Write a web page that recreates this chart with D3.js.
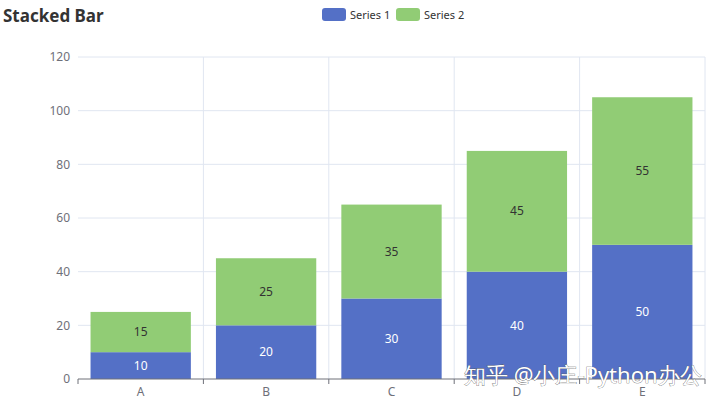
<!DOCTYPE html>
<html>
<head>
<meta charset="utf-8">
<script src="https://cdn.jsdelivr.net/npm/d3@7"></script>
<style>
  body { margin: 0; background: #fff; }
  text { font-family: "Microsoft YaHei", "Noto Sans", sans-serif; }
</style>
</head>
<body>
<div id="plot"></div>
<script>
const categories = ["A", "B", "C", "D", "E"];
const series1 = [10, 20, 30, 40, 50];
const series2 = [15, 25, 35, 45, 55];
const seriesNames = ["Series 1", "Series 2"];
const colors = ["#5470c6", "#91cc75"];
const yTicks = [0, 20, 40, 60, 80, 100, 120];

const width = 720, height = 406;
const margin = { top: 57, right: 15, bottom: 27, left: 78 };

const svg = d3.select("#plot").append("svg")
  .attr("width", width).attr("height", height);

const x = d3.scaleBand().domain(categories)
  .range([margin.left, width - margin.right]).paddingInner(0.2).paddingOuter(0.1);
const xOuter = d3.scaleBand().domain(categories)
  .range([margin.left, width - margin.right]);
const y = d3.scaleLinear().domain([0, 120]).range([height - margin.bottom, margin.top]);

// grid
svg.append("g").selectAll("line").data(yTicks.slice(1)).enter().append("line")
  .attr("x1", margin.left).attr("x2", width - margin.right)
  .attr("y1", d => y(d)).attr("y2", d => y(d))
  .attr("stroke", "#e0e6f1");
svg.append("g").selectAll("line").data(categories.slice(1).concat(["end"])).enter().append("line")
  .attr("x1", d => d === "end" ? width - margin.right : xOuter(d))
  .attr("x2", d => d === "end" ? width - margin.right : xOuter(d))
  .attr("y1", margin.top).attr("y2", height - margin.bottom)
  .attr("stroke", "#e0e6f1");

// y labels
svg.append("g").selectAll("text").data(yTicks).enter().append("text")
  .attr("x", margin.left - 8).attr("y", d => y(d)).attr("dy", "0.35em")
  .attr("text-anchor", "end").attr("font-size", 12).attr("fill", "#6e7079")
  .text(d => d);

// stacked bars
const rows = categories.map((c, i) => ({ cat: c, s1: series1[i], s2: series2[i] }));
const stacked = d3.stack().keys(["s1", "s2"])(rows);
stacked.forEach((layer, li) => {
  const g = svg.append("g");
  g.selectAll("rect").data(layer).enter().append("rect")
    .attr("x", d => x(d.data.cat)).attr("width", x.bandwidth())
    .attr("y", d => y(d[1])).attr("height", d => y(d[0]) - y(d[1]))
    .attr("fill", colors[li]);
  g.selectAll("text").data(layer).enter().append("text")
    .attr("x", d => x(d.data.cat) + x.bandwidth() / 2)
    .attr("y", d => (y(d[0]) + y(d[1])) / 2).attr("dy", "0.35em")
    .attr("text-anchor", "middle").attr("font-size", 12)
    .attr("fill", li === 0 ? "#fff" : "#333")
    .text(d => d[1] - d[0]);
});

// x axis
const xa = svg.append("g").attr("transform", `translate(0,${height - margin.bottom})`);
xa.append("line").attr("x1", margin.left).attr("x2", width - margin.right)
  .attr("stroke", "#6e7079");
xa.selectAll(".tk").data(categories.concat(["end"])).enter().append("line")
  .attr("x1", d => d === "end" ? width - margin.right : xOuter(d))
  .attr("x2", d => d === "end" ? width - margin.right : xOuter(d))
  .attr("y2", 5).attr("stroke", "#6e7079");
xa.selectAll("text").data(categories).enter().append("text")
  .attr("x", d => xOuter(d) + xOuter.bandwidth() / 2).attr("y", 17)
  .attr("text-anchor", "middle").attr("font-size", 12).attr("fill", "#6e7079")
  .text(d => d);

// title
svg.append("text").attr("x", 3).attr("y", 22).attr("font-size", 17)
  .attr("font-weight", "bold").attr("fill", "#333").text("Stacked Bar");

// legend
const lg = svg.append("g");
seriesNames.forEach((n, i) => {
  const lx = 322 + i * 74;
  lg.append("rect").attr("x", lx).attr("y", 8).attr("width", 24).attr("height", 13)
    .attr("rx", 3).attr("fill", colors[i]);
  lg.append("text").attr("x", lx + 28).attr("y", 15).attr("dy", "0.35em")
    .attr("font-size", 11).attr("fill", "#333").text(n);
});

// watermark
svg.append("text").attr("x", 464).attr("y", 383).attr("font-size", 22)
  .attr("fill", "#fff").attr("stroke", "#555").attr("stroke-width", 0.6)
  .attr("paint-order", "stroke")
  .attr("font-family", "Noto Sans CJK SC").text("知乎 @小庄-Python办公");
</script>
</body>
</html>
